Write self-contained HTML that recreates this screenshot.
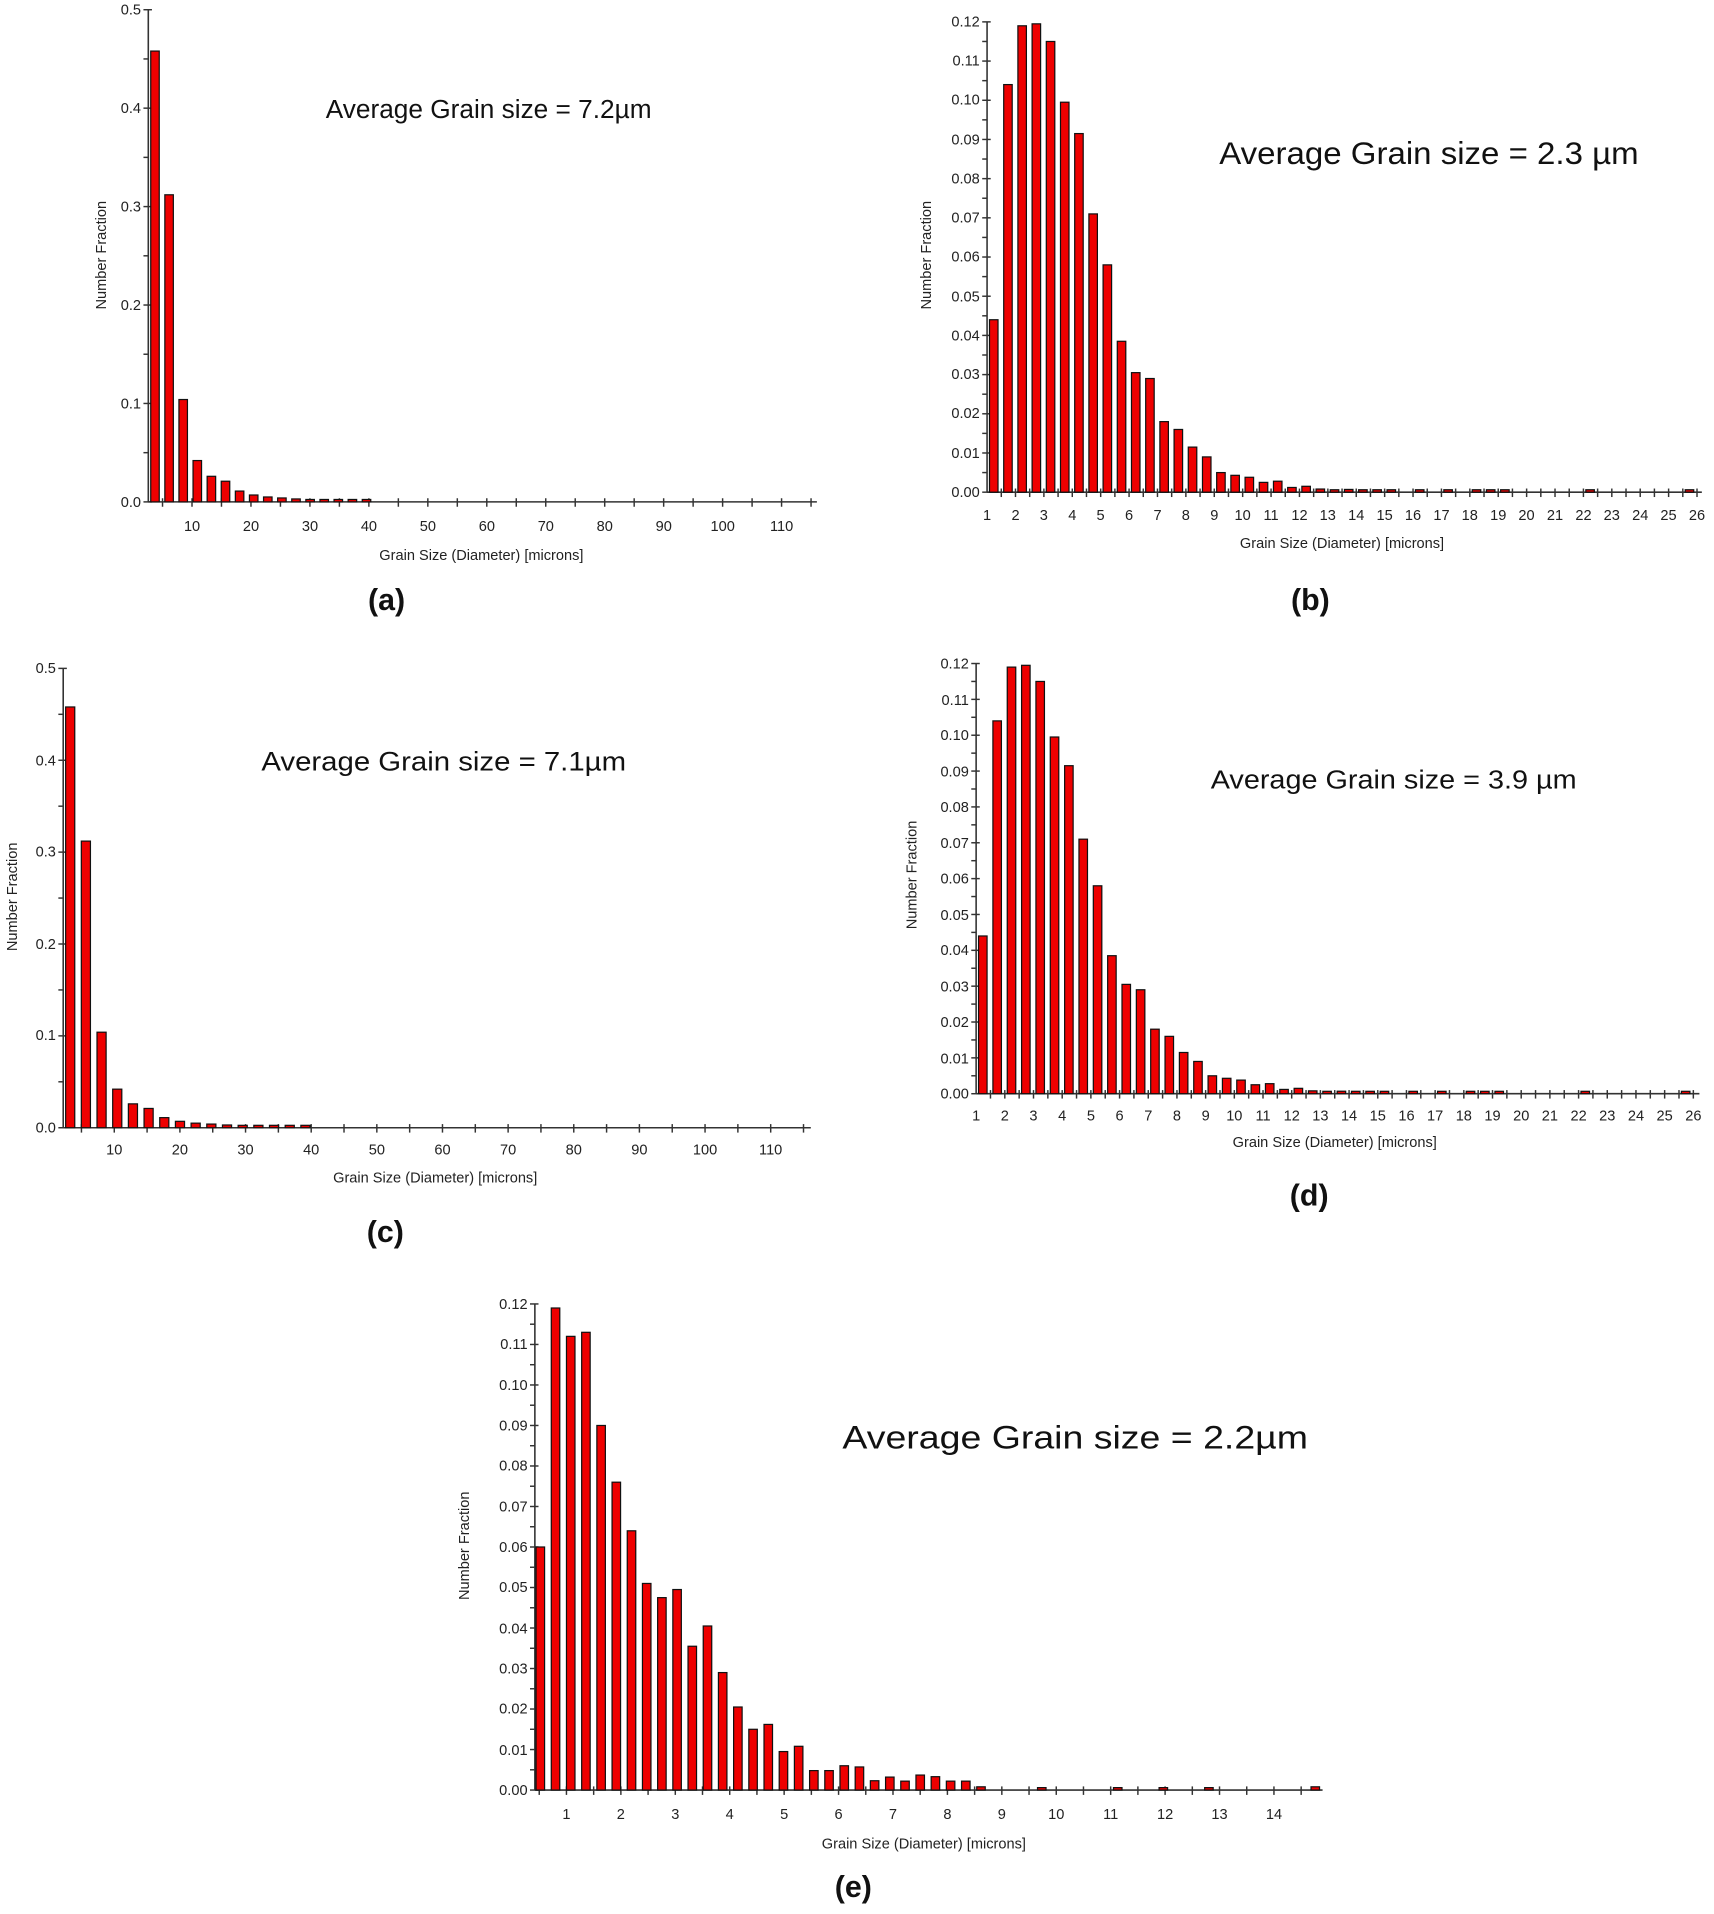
<!DOCTYPE html>
<html><head><meta charset="utf-8"><style>
html,body{margin:0;padding:0;background:#fff;}
svg{display:block;}
text{font-family:"Liberation Sans",sans-serif;fill:#222;}
.yl{font-size:12px;text-anchor:end;}
.xl{font-size:12px;text-anchor:middle;}
.al{font-size:12px;text-anchor:middle;}
.cap{font-size:25px;font-weight:bold;text-anchor:middle;fill:#111;}
.avg{fill:#111;}
</style></head><body>
<svg id="s" width="1714" height="1914" viewBox="0 0 1410 1575" preserveAspectRatio="none" xmlns="http://www.w3.org/2000/svg">
<g id="g"></g>
<!-- Panel a -->
<text class="yl" x="116" y="12">0.5</text><text class="yl" x="116" y="93">0.4</text><text class="yl" x="116" y="174">0.3</text><text class="yl" x="116" y="255">0.2</text><text class="yl" x="116" y="336">0.1</text><text class="yl" x="116" y="417">0.0</text>
<text class="xl" x="158" y="437">10</text><text class="xl" x="206.5" y="437">20</text><text class="xl" x="255" y="437">30</text><text class="xl" x="303.5" y="437">40</text><text class="xl" x="352" y="437">50</text><text class="xl" x="400.5" y="437">60</text><text class="xl" x="449" y="437">70</text><text class="xl" x="497.5" y="437">80</text><text class="xl" x="546" y="437">90</text><text class="xl" x="594.5" y="437">100</text><text class="xl" x="643" y="437">110</text>
<text class="al" x="396" y="461">Grain Size (Diameter) [microns]</text>
<text class="al" transform="translate(87,210) rotate(-90)">Number Fraction</text>
<text class="avg" x="268" y="97" font-size="21" textLength="268" lengthAdjust="spacingAndGlyphs">Average Grain size = 7.2µm</text>
<text class="cap" x="318" y="502">(a)</text>
<!-- Panel b -->
<text class="yl" x="806" y="22">0.12</text><text class="yl" x="806" y="54">0.11</text><text class="yl" x="806" y="86">0.10</text><text class="yl" x="806" y="119">0.09</text><text class="yl" x="806" y="151">0.08</text><text class="yl" x="806" y="183">0.07</text><text class="yl" x="806" y="215">0.06</text><text class="yl" x="806" y="248">0.05</text><text class="yl" x="806" y="280">0.04</text><text class="yl" x="806" y="312">0.03</text><text class="yl" x="806" y="344">0.02</text><text class="yl" x="806" y="377">0.01</text><text class="yl" x="806" y="409">0.00</text>
<text class="xl" x="812" y="428">1</text><text class="xl" x="835.4" y="428">2</text><text class="xl" x="858.7" y="428">3</text><text class="xl" x="882.1" y="428">4</text><text class="xl" x="905.4" y="428">5</text><text class="xl" x="928.8" y="428">6</text><text class="xl" x="952.2" y="428">7</text><text class="xl" x="975.5" y="428">8</text><text class="xl" x="998.9" y="428">9</text><text class="xl" x="1022.2" y="428">10</text><text class="xl" x="1045.6" y="428">11</text><text class="xl" x="1069" y="428">12</text><text class="xl" x="1092.3" y="428">13</text><text class="xl" x="1115.7" y="428">14</text><text class="xl" x="1139" y="428">15</text><text class="xl" x="1162.4" y="428">16</text><text class="xl" x="1185.8" y="428">17</text><text class="xl" x="1209.1" y="428">18</text><text class="xl" x="1232.5" y="428">19</text><text class="xl" x="1255.8" y="428">20</text><text class="xl" x="1279.2" y="428">21</text><text class="xl" x="1302.6" y="428">22</text><text class="xl" x="1325.9" y="428">23</text><text class="xl" x="1349.3" y="428">24</text><text class="xl" x="1372.6" y="428">25</text><text class="xl" x="1396" y="428">26</text>
<text class="al" x="1104" y="451">Grain Size (Diameter) [microns]</text>
<text class="al" transform="translate(766,210) rotate(-90)">Number Fraction</text>
<text class="avg" x="1003" y="135" font-size="26" textLength="345" lengthAdjust="spacingAndGlyphs">Average Grain size = 2.3 µm</text>
<text class="cap" x="1078" y="502">(b)</text>
<!-- Panel c -->
<text class="yl" x="46" y="554">0.5</text><text class="yl" x="46" y="630">0.4</text><text class="yl" x="46" y="705">0.3</text><text class="yl" x="46" y="781">0.2</text><text class="yl" x="46" y="856">0.1</text><text class="yl" x="46" y="932">0.0</text>
<text class="xl" x="94" y="950">10</text><text class="xl" x="148" y="950">20</text><text class="xl" x="202" y="950">30</text><text class="xl" x="256" y="950">40</text><text class="xl" x="310" y="950">50</text><text class="xl" x="364" y="950">60</text><text class="xl" x="418" y="950">70</text><text class="xl" x="472" y="950">80</text><text class="xl" x="526" y="950">90</text><text class="xl" x="580" y="950">100</text><text class="xl" x="634" y="950">110</text>
<text class="al" x="358" y="973">Grain Size (Diameter) [microns]</text>
<text class="al" transform="translate(14,738) rotate(-90)">Number Fraction</text>
<text class="avg" x="215" y="634" font-size="22" textLength="300" lengthAdjust="spacingAndGlyphs">Average Grain size = 7.1µm</text>
<text class="cap" x="317" y="1022">(c)</text>
<!-- Panel d -->
<text class="yl" x="797" y="550">0.12</text><text class="yl" x="797" y="580">0.11</text><text class="yl" x="797" y="609">0.10</text><text class="yl" x="797" y="639">0.09</text><text class="yl" x="797" y="668">0.08</text><text class="yl" x="797" y="698">0.07</text><text class="yl" x="797" y="727">0.06</text><text class="yl" x="797" y="757">0.05</text><text class="yl" x="797" y="786">0.04</text><text class="yl" x="797" y="816">0.03</text><text class="yl" x="797" y="845">0.02</text><text class="yl" x="797" y="875">0.01</text><text class="yl" x="797" y="904">0.00</text>
<text class="xl" x="803" y="922">1</text><text class="xl" x="826.6" y="922">2</text><text class="xl" x="850.2" y="922">3</text><text class="xl" x="873.8" y="922">4</text><text class="xl" x="897.4" y="922">5</text><text class="xl" x="921" y="922">6</text><text class="xl" x="944.6" y="922">7</text><text class="xl" x="968.2" y="922">8</text><text class="xl" x="991.8" y="922">9</text><text class="xl" x="1015.4" y="922">10</text><text class="xl" x="1039" y="922">11</text><text class="xl" x="1062.6" y="922">12</text><text class="xl" x="1086.2" y="922">13</text><text class="xl" x="1109.8" y="922">14</text><text class="xl" x="1133.4" y="922">15</text><text class="xl" x="1157" y="922">16</text><text class="xl" x="1180.6" y="922">17</text><text class="xl" x="1204.2" y="922">18</text><text class="xl" x="1227.8" y="922">19</text><text class="xl" x="1251.4" y="922">20</text><text class="xl" x="1275" y="922">21</text><text class="xl" x="1298.6" y="922">22</text><text class="xl" x="1322.2" y="922">23</text><text class="xl" x="1345.8" y="922">24</text><text class="xl" x="1369.4" y="922">25</text><text class="xl" x="1393" y="922">26</text>
<text class="al" x="1098" y="944">Grain Size (Diameter) [microns]</text>
<text class="al" transform="translate(754,720) rotate(-90)">Number Fraction</text>
<text class="avg" x="996" y="649" font-size="21" textLength="301" lengthAdjust="spacingAndGlyphs">Average Grain size = 3.9 µm</text>
<text class="cap" x="1077" y="992">(d)</text>
<!-- Panel e -->
<text class="yl" x="434" y="1077">0.12</text><text class="yl" x="434" y="1110">0.11</text><text class="yl" x="434" y="1144">0.10</text><text class="yl" x="434" y="1177">0.09</text><text class="yl" x="434" y="1210">0.08</text><text class="yl" x="434" y="1244">0.07</text><text class="yl" x="434" y="1277">0.06</text><text class="yl" x="434" y="1310">0.05</text><text class="yl" x="434" y="1344">0.04</text><text class="yl" x="434" y="1377">0.03</text><text class="yl" x="434" y="1410">0.02</text><text class="yl" x="434" y="1444">0.01</text><text class="yl" x="434" y="1477">0.00</text>
<text class="xl" x="466" y="1497">1</text><text class="xl" x="510.7" y="1497">2</text><text class="xl" x="555.5" y="1497">3</text><text class="xl" x="600.3" y="1497">4</text><text class="xl" x="645.1" y="1497">5</text><text class="xl" x="689.8" y="1497">6</text><text class="xl" x="734.6" y="1497">7</text><text class="xl" x="779.4" y="1497">8</text><text class="xl" x="824.1" y="1497">9</text><text class="xl" x="868.9" y="1497">10</text><text class="xl" x="913.7" y="1497">11</text><text class="xl" x="958.5" y="1497">12</text><text class="xl" x="1003.2" y="1497">13</text><text class="xl" x="1048" y="1497">14</text>
<text class="al" x="760" y="1521">Grain Size (Diameter) [microns]</text>
<text class="al" transform="translate(386,1272) rotate(-90)">Number Fraction</text>
<text class="avg" x="693" y="1192" font-size="27" textLength="383" lengthAdjust="spacingAndGlyphs">Average Grain size = 2.2µm</text>
<text class="cap" x="702" y="1561">(e)</text>
</svg>
<script>
(function(){
var g=document.getElementById('g'),NS='http://www.w3.org/2000/svg';
function el(n,a){var e=document.createElementNS(NS,n);for(var k in a)e.setAttribute(k,a[k]);g.appendChild(e);return e;}
function panel(p){
 el('line',{x1:p.ax,y1:p.y0,x2:p.xe,y2:p.y0,stroke:'#333','stroke-width':1.3});
 el('line',{x1:p.ax,y1:p.ytop,x2:p.ax,y2:p.y0,stroke:'#333','stroke-width':1.3});
 for(var i=0;i<=p.ny;i++){var y=p.y0-(p.y0-p.ytop)*i/p.ny;el('line',{x1:p.ax-4,y1:y,x2:p.ax+(i%p.maj==0?3:0),y2:y,stroke:'#333','stroke-width':1.2});}
 for(var x=p.xt0;x<=p.xe;x+=p.xts){el('line',{x1:x,y1:p.y0-3,x2:x,y2:p.y0+4,stroke:'#333','stroke-width':1.2});}
 var s=(p.y0-p.ytop)/p.ymax;
 for(var j=0;j<p.v.length;j++){var h=p.v[j]*s;if(h<=0)continue;if(h<2)h=2;
  el('rect',{x:p.b0+j*p.bs,y:p.y0-h,width:p.bw,height:h,fill:'#ee0000',stroke:'#111','stroke-width':1});}
}
var va=[0.458,0.312,0.104,0.042,0.026,0.021,0.011,0.007,0.005,0.004,0.003,0.002,0.002,0.001,0.001,0.001];
panel({ax:122,y0:413,ytop:8,xe:672,ny:10,maj:2,ymax:0.5,xt0:133.7,xts:24.25,v:va,b0:124,bs:11.6,bw:7});
panel({ax:52,y0:928,ytop:550,xe:667,ny:10,maj:2,ymax:0.5,xt0:67,xts:27,v:va,b0:54,bs:12.9,bw:7.5});
var vb=[0.044,0.104,0.119,0.1195,0.115,0.0995,0.0915,0.071,0.058,0.0385,0.0305,0.029,0.018,0.016,0.0115,0.009,0.005,0.0043,0.0038,0.0025,0.0028,0.0012,0.0015,0.0008,0.0005,0.0007,0.0003,0.0003,0.0006,0,0.0004,0,0.0003,0,0.0003,0.0003,0.0003,0,0,0,0,0,0.0003,0,0,0,0,0,0,0.0003];
panel({ax:812,y0:405,ytop:18,xe:1400,ny:24,maj:2,ymax:0.12,xt0:823.7,xts:11.68,v:vb,b0:814,bs:11.68,bw:7});
panel({ax:803,y0:900,ytop:546,xe:1398,ny:24,maj:2,ymax:0.12,xt0:814.8,xts:11.8,v:vb,b0:805,bs:11.8,bw:7});
var ve=[0.060,0.119,0.112,0.113,0.090,0.076,0.064,0.051,0.0475,0.0495,0.0355,0.0405,0.029,0.0205,0.015,0.0162,0.0095,0.0108,0.0048,0.0048,0.006,0.0057,0.0023,0.0032,0.0022,0.0037,0.0033,0.0022,0.0022,0.0008,0,0,0,0.0005,0,0,0,0,0.0005,0,0,0.0005,0,0,0.0005,0,0,0,0,0,0,0.0008];
panel({ax:440,y0:1473,ytop:1073,xe:1088,ny:24,maj:2,ymax:0.12,xt0:443.6,xts:22.385,v:ve,b0:441,bs:12.5,bw:7});
})();
</script>
</body></html>
